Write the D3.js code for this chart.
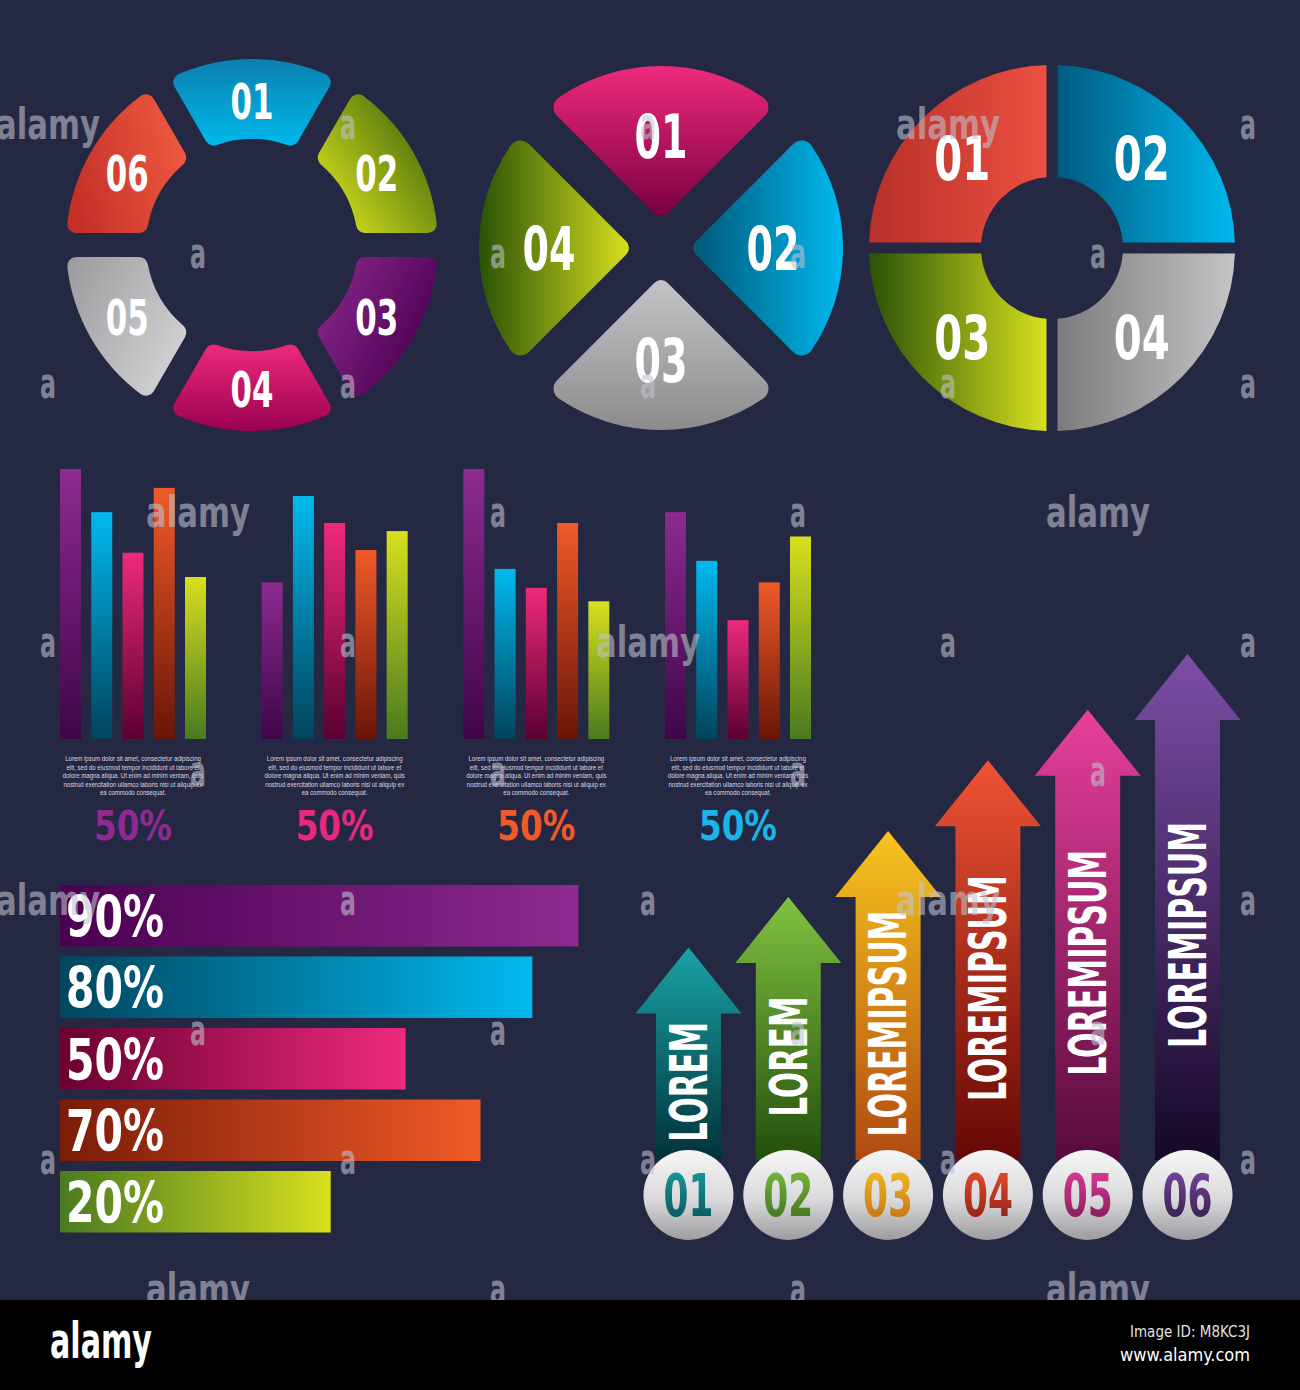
<!DOCTYPE html>
<html>
<head>
<meta charset="utf-8">
<script src="https://cdn.jsdelivr.net/npm/d3@7/dist/d3.min.js"></script>
<style>
html, body { margin: 0; padding: 0; background: #252843; }
svg { display: block; }
</style>
</head>
<body>
<svg id="chart" width="1300" height="1390"></svg>
<script>
// данные
const ring6Labels = ["01", "02", "03", "04", "05", "06"];
const ring4Labels = ["01", "02", "03", "04"];
const quadLabels = ["01", "02", "04", "03"]; // по часовой с левого верхнего

const barGroups = ["g1", "g2", "g3", "g4"];
const barValues = [
	[100, 84, 69, 93, 60],
	[58, 90, 80, 70, 77],
	[100, 63, 56, 80, 51],
	[84, 66, 44, 58, 75]
];
const barPercent = ["50%", "50%", "50%", "50%"];
const loremLines = [
	"Lorem ipsum dolor sit amet, consectetur adipiscing",
	"elit, sed do eiusmod tempor incididunt ut labore et",
	"dolore magna aliqua. Ut enim ad minim veniam, quis",
	"nostrud exercitation ullamco laboris nisi ut aliquip ex",
	"ea commodo consequat."
];

const hbarLabels = ["90%", "80%", "50%", "70%", "20%"];
const hbarValues = [90, 82, 60, 73, 47];

const arrowNums = ["01", "02", "03", "04", "05", "06"];
const arrowValues = [42, 52, 65, 79, 89, 100];
const arrowTexts = ["LOREM", "LOREM", "LOREMIPSUM", "LOREMIPSUM", "LOREMIPSUM", "LOREMIPSUM"];

// цвета
const ring6Colors = [
	["#0a80ad", "#00b8ec", 0, 0, 0, 1],
	["#2c5806", "#d8e01e", 1, 0, 0, 0.8],
	["#4a0050", "#8e2a91", 1, 0.6, 0, 0],
	["#ee2a7b", "#9a0050", 0, 0, 0, 1],
	["#9a9a9c", "#d0d0d2", 0, 0, 1, 0.6],
	["#c43028", "#f05a40", 0, 0.6, 1, 0.3]
];
const ring4Colors = [
	["#ee2a7b", "#7a0040", 0, 0, 0, 1],
	["#00b9ef", "#00587a", 1, 0, 0, 0],
	["#c4c4c6", "#8c8c8e", 0, 0, 0, 1],
	["#2a5206", "#d8e01e", 0, 0, 1, 0]
];
const quadColors = [
	["#b8302a", "#ec5040", 0, 0, 1, 0],
	["#005a80", "#00b9ef", 0, 0, 1, 0],
	["#7c7c7e", "#c4c4c6", 0, 0, 1, 0],
	["#2a5206", "#d8e01e", 0, 0, 1, 0]
];
const barColors = [
	["#8e2a91", "#3e0648"],
	["#00b9ef", "#00445c"],
	["#ee2a7b", "#5a0030"],
	["#f05a28", "#6a1508"],
	["#d8e01e", "#4a7a20"]
];
const pctColors = ["#8e2a91", "#e8287f", "#f05a28", "#1ab4ea"];
const hbarColors = [
	["#4a0050", "#8e2a91"],
	["#00465e", "#00b9ef"],
	["#6a0030", "#ee2a7b"],
	["#7a1c08", "#f05a28"],
	["#4a7a20", "#d8e01e"]
];
const arrowColors = [
	["#1aa3a6", "#003238"],
	["#80c241", "#244f0c"],
	["#f8c51e", "#b04a10"],
	["#f05334", "#640805"],
	["#e8409c", "#560a3c"],
	["#7c4ea6", "#160828"]
];

const narrow = "'Liberation Sans Narrow', 'DejaVu Sans Condensed', 'Roboto Condensed', sans-serif";

let svg = d3.select("#chart");
let defs = svg.append("defs");

svg.append("rect").attr("width", 1300).attr("height", 1390).attr("fill", "#252843");

let gid = 0;
function grad(c) {
	let id = "g" + (gid++);
	let g = defs.append("linearGradient").attr("id", id)
		.attr("x1", c[2]).attr("y1", c[3]).attr("x2", c[4]).attr("y2", c[5]);
	g.append("stop").attr("offset", "0").attr("stop-color", c[0]);
	g.append("stop").attr("offset", "1").attr("stop-color", c[1]);
	return "url(#" + id + ")";
}

// КОЛЬЦА СВЕРХУ
function drawRing(cx, cy, labels, colors, opt) {
	let pie = d3.pie().value(1).sort(null)
		.startAngle(opt.start).endAngle(opt.start + 2 * Math.PI);
	let arcs = pie(labels);
	let arc = d3.arc().innerRadius(opt.r0).outerRadius(opt.r1)
		.padAngle(opt.gap / opt.r1).padRadius(opt.r1).cornerRadius(opt.corner);
	let labelArc = d3.arc().innerRadius(opt.lr).outerRadius(opt.lr);
	let g = svg.append("g").attr("transform", `translate(${cx}, ${cy})`);
	g.selectAll("path").data(arcs).enter().append("path")
		.attr("d", arc)
		.attr("fill", (d, i) => grad(colors[i]));
	g.selectAll("text").data(arcs).enter().append("text")
		.attr("x", d => labelArc.centroid(d)[0])
		.attr("y", d => labelArc.centroid(d)[1])
		.attr("dy", "0.36em")
		.attr("text-anchor", "middle")
		.attr("textLength", opt.tw)
		.attr("lengthAdjust", "spacingAndGlyphs")
		.style("font-family", narrow)
		.style("font-weight", "bold")
		.style("font-size", opt.fs + "px")
		.attr("fill", "#fff")
		.text(d => d.data);
}

drawRing(252, 245, ring6Labels, ring6Colors,
	{start: -Math.PI / 6, r0: 106, r1: 186, gap: 24, corner: 9, lr: 144, fs: 50, tw: 43});
drawRing(661, 248, ring4Labels, ring4Colors,
	{start: -Math.PI / 4, r0: 32, r1: 182, gap: 40, corner: 12, lr: 112, fs: 61, tw: 53});
drawRing(1052, 248, quadLabels, quadColors,
	{start: -Math.PI / 2, r0: 71, r1: 183, gap: 11, corner: 0, lr: 127, fs: 60, tw: 56});

// СТОЛБЧАТЫЕ ДИАГРАММЫ
let groupX = d3.scaleBand().domain(barGroups).range([60, 811]).paddingInner(0.276);
let barX = d3.scaleBand().domain(d3.range(5)).range([0, groupX.bandwidth()]).paddingInner(0.328);
let barY = d3.scaleLinear().domain([0, 100]).range([739, 469]);
let barFills = barColors.map(c => grad([c[0], c[1], 0, 0, 0, 1]));

barGroups.forEach((name, gi) => {
	let g = svg.append("g").attr("transform", `translate(${groupX(name)}, 0)`);
	g.selectAll("rect").data(barValues[gi]).enter().append("rect")
		.attr("x", (d, i) => barX(i))
		.attr("y", d => barY(d))
		.attr("width", barX.bandwidth())
		.attr("height", d => barY(0) - barY(d))
		.attr("fill", (d, i) => barFills[i]);
	let mid = groupX.bandwidth() / 2;
	g.append("g").attr("transform", `translate(${mid}, 0) scale(0.84, 1)`)
		.selectAll("text").data(loremLines).enter().append("text")
		.attr("x", 0)
		.attr("y", (d, i) => 761 + i * 8.6)
		.attr("text-anchor", "middle")
		.style("font-family", "'Liberation Sans', Arial, sans-serif")
		.style("font-size", "7.2px")
		.attr("fill", "#d8d8e2")
		.text(d => d);
	g.append("text")
		.attr("x", mid)
		.attr("y", 840)
		.attr("text-anchor", "middle")
		.attr("textLength", 78)
		.attr("lengthAdjust", "spacingAndGlyphs")
		.style("font-family", narrow)
		.style("font-weight", "bold")
		.style("font-size", "40px")
		.attr("fill", pctColors[gi])
		.text(barPercent[gi]);
});

// ГОРИЗОНТАЛЬНЫЕ ПОЛОСЫ
let hx = d3.scaleLinear().domain([0, 100]).range([60, 636]);
let hy = d3.scaleBand().domain(d3.range(hbarLabels.length)).range([885, 1232.5]).paddingInner(0.14);
let hg = svg.append("g");
hg.selectAll("rect").data(hbarValues).enter().append("rect")
	.attr("x", hx(0))
	.attr("y", (d, i) => hy(i))
	.attr("width", d => hx(d) - hx(0))
	.attr("height", hy.bandwidth())
	.attr("fill", (d, i) => grad([hbarColors[i][0], hbarColors[i][1], 0, 0, 1, 0]));
hg.selectAll("text").data(hbarLabels).enter().append("text")
	.attr("x", 66)
	.attr("y", (d, i) => hy(i) + hy.bandwidth() / 2 + 21)
	.attr("textLength", 98)
	.attr("lengthAdjust", "spacingAndGlyphs")
	.style("font-family", narrow)
	.style("font-weight", "bold")
	.style("font-size", "57px")
	.attr("fill", "#fff")
	.text(d => d);

// СТРЕЛКИ
let ax = d3.scaleBand().domain(arrowNums).range([656, 1220]).paddingInner(0.349);
let ay = d3.scaleLinear().domain([0, 100]).range([1160, 654]);
let headH = 66, headW = 106;
let ag = svg.append("g");
arrowNums.forEach((n, i) => {
	let x0 = ax(n), x1 = x0 + ax.bandwidth(), cx = x0 + ax.bandwidth() / 2;
	let tip = ay(arrowValues[i]), base = ay(0), hb = tip + headH;
	let p = d3.path();
	p.moveTo(x0, base);
	p.lineTo(x0, hb);
	p.lineTo(cx - headW / 2, hb);
	p.lineTo(cx, tip);
	p.lineTo(cx + headW / 2, hb);
	p.lineTo(x1, hb);
	p.lineTo(x1, base);
	p.closePath();
	ag.append("path").attr("d", p.toString())
		.attr("fill", grad([arrowColors[i][0], arrowColors[i][1], 0, 0, 0, 1]));
	let len = arrowTexts[i].length > 5 ? 226 : 120;
	ag.append("text")
		.attr("transform", `translate(${cx}, ${(hb + base) / 2 - 5}) rotate(-90)`)
		.attr("dy", "0.36em")
		.attr("text-anchor", "middle")
		.attr("textLength", len)
		.attr("lengthAdjust", "spacingAndGlyphs")
		.style("font-family", narrow)
		.style("font-weight", "bold")
		.style("font-size", "51px")
		.attr("fill", "#fff")
		.text(arrowTexts[i]);
});

// кружки с номерами
let cg = defs.append("linearGradient").attr("id", "ball").attr("x1", 0).attr("y1", 0).attr("x2", 0).attr("y2", 1);
cg.append("stop").attr("offset", "0").attr("stop-color", "#f6f6f6");
cg.append("stop").attr("offset", "0.55").attr("stop-color", "#dadadc");
cg.append("stop").attr("offset", "1").attr("stop-color", "#9c9c9e");
let balls = svg.append("g");
balls.selectAll("circle").data(arrowNums).enter().append("circle")
	.attr("cx", d => ax(d) + ax.bandwidth() / 2)
	.attr("cy", 1195)
	.attr("r", 45)
	.attr("fill", "url(#ball)");
balls.selectAll("text").data(arrowNums).enter().append("text")
	.attr("x", d => ax(d) + ax.bandwidth() / 2)
	.attr("y", 1216)
	.attr("text-anchor", "middle")
	.attr("textLength", 50)
	.attr("lengthAdjust", "spacingAndGlyphs")
	.style("font-family", narrow)
	.style("font-weight", "bold")
	.style("font-size", "59px")
	.attr("fill", (d, i) => grad([arrowColors[i][0], arrowColors[i][1], 0, 0, 0, 1.3]))
	.text(d => d);

// ВОДЯНЫЕ ЗНАКИ
let clip = defs.append("clipPath").attr("id", "wmclip");
clip.append("rect").attr("width", 1300).attr("height", 1300);
let wmBig = ["0-0", "0-6", "3-1", "3-7", "4-4", "6-0", "6-6", "9-1", "9-7"];
let wm = [];
for (let r = 0; r < 10; r++)
	for (let c = 0; c < 9; c++)
		if ((r + c) % 2 == 0)
			wm.push({r: r, c: c, t: wmBig.includes(r + "-" + c) ? "alamy" : "a"});
svg.append("g").attr("clip-path", "url(#wmclip)")
	.selectAll("text").data(wm).enter().append("text")
	.attr("x", d => 48 + d.c * 150)
	.attr("y", d => 127 + d.r * 129.4 + 12)
	.attr("text-anchor", "middle")
	.attr("textLength", d => d.t == "a" ? 16 : 104)
	.attr("lengthAdjust", "spacingAndGlyphs")
	.style("font-family", narrow)
	.style("font-weight", "bold")
	.style("font-size", "43px")
	.attr("fill", "#c0c3d0")
	.attr("opacity", 0.58)
	.text(d => d.t);

// нижняя плашка
svg.append("rect").attr("x", 0).attr("y", 1300).attr("width", 1300).attr("height", 90).attr("fill", "#000");
svg.append("text").attr("x", 50).attr("y", 1358)
	.attr("textLength", 102).attr("lengthAdjust", "spacingAndGlyphs")
	.style("font-family", narrow).style("font-weight", "bold").style("font-size", "50px")
	.attr("fill", "#fff").text("alamy");
svg.append("text").attr("x", 1250).attr("y", 1337).attr("text-anchor", "end")
	.style("font-family", narrow).style("font-size", "15px")
	.attr("fill", "#e0e0e0").text("Image ID: M8KC3J");
svg.append("text").attr("x", 1250).attr("y", 1361).attr("text-anchor", "end")
	.style("font-family", narrow).style("font-size", "18px")
	.attr("fill", "#fff").text("www.alamy.com");
</script>
</body>
</html>
